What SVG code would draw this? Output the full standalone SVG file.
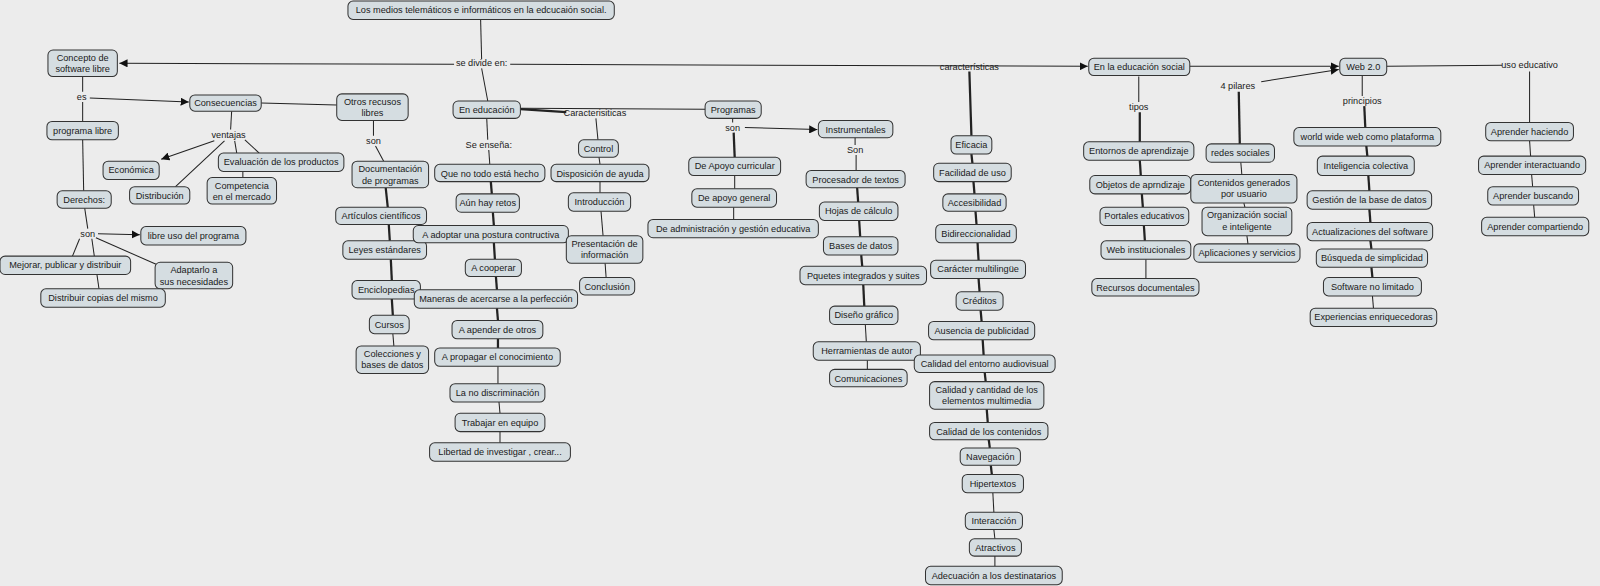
<svg xmlns="http://www.w3.org/2000/svg" width="1600" height="586" viewBox="0 0 1600 586">
<defs>
<marker id="ar" viewBox="0 0 10 10" refX="10" refY="5" markerWidth="8" markerHeight="8" markerUnits="userSpaceOnUse" orient="auto"><path d="M0,0L10,5L0,10z" fill="#111"/></marker>
<style>
.n rect{fill:#d5dde1;stroke:#333;stroke-width:1}
text{font-family:"Liberation Sans",Arial,sans-serif;font-size:9px;fill:#1a1a1a;text-anchor:middle}
.c line{stroke:#222;stroke-width:1}
.c .t{stroke-width:2.2}
.c .a{marker-end:url(#ar)}
</style>
</defs>
<rect width="1600" height="586" fill="#ececec"/>
<g transform="scale(1.0204)">
<g class="c">
<line x1="471" y1="19" x2="472" y2="58"/>
<line class="a" x1="445" y1="63" x2="117" y2="62"/>
<line class="a" x1="500" y1="63" x2="1066" y2="65"/>
<line x1="472" y1="67" x2="478" y2="99"/>
<line class="a" x1="1166" y1="65" x2="1312" y2="65"/>
<line x1="1359" y1="65" x2="1472" y2="64"/>
<line x1="1499" y1="70" x2="1499" y2="120"/>
<line x1="1499" y1="138" x2="1500" y2="153"/>
<line x1="1501" y1="171" x2="1502" y2="183"/>
<line x1="1503" y1="201" x2="1504" y2="213"/>
<line class="a" x1="1236" y1="80" x2="1312" y2="68"/>
<line class="t" x1="1214" y1="90" x2="1215" y2="141"/>
<line x1="1216" y1="159" x2="1217" y2="171"/>
<line x1="1219" y1="199" x2="1220" y2="203"/>
<line x1="1222" y1="231" x2="1223" y2="239"/>
<line x1="1335" y1="73" x2="1335" y2="94"/>
<line class="t" x1="1337" y1="104" x2="1338" y2="125"/>
<line class="t" x1="1339" y1="143" x2="1340" y2="153"/>
<line class="t" x1="1341" y1="172" x2="1342" y2="187"/>
<line class="t" x1="1342" y1="205" x2="1343" y2="218"/>
<line class="t" x1="1343" y1="236" x2="1344" y2="244"/>
<line class="t" x1="1344" y1="262" x2="1345" y2="272"/>
<line x1="1345" y1="290" x2="1346" y2="302"/>
<line x1="1116" y1="75" x2="1116" y2="100"/>
<line class="t" x1="1117" y1="110" x2="1117" y2="139"/>
<line class="t" x1="1117" y1="157" x2="1118" y2="172"/>
<line class="t" x1="1119" y1="190" x2="1120" y2="203"/>
<line class="t" x1="1121" y1="221" x2="1122" y2="236"/>
<line x1="1123" y1="254" x2="1123" y2="273"/>
<line class="t" x1="950" y1="70" x2="952" y2="133"/>
<line class="t" x1="952" y1="151" x2="953" y2="160"/>
<line class="t" x1="954" y1="178" x2="955" y2="190"/>
<line class="t" x1="956" y1="207" x2="957" y2="220"/>
<line class="t" x1="958" y1="238" x2="959" y2="255"/>
<line class="t" x1="959" y1="273" x2="960" y2="286"/>
<line class="t" x1="961" y1="304" x2="962" y2="315"/>
<line class="t" x1="963" y1="333" x2="964" y2="348"/>
<line class="t" x1="965" y1="365" x2="966" y2="374"/>
<line class="t" x1="967" y1="401" x2="968" y2="414"/>
<line class="t" x1="969" y1="431" x2="970" y2="439"/>
<line class="t" x1="971" y1="456" x2="972" y2="465"/>
<line x1="973" y1="483" x2="974" y2="502"/>
<line x1="974" y1="519" x2="975" y2="528"/>
<line x1="975" y1="545" x2="975" y2="555"/>
<line x1="81" y1="75" x2="81" y2="90"/>
<line class="a" x1="88" y1="96" x2="185" y2="100"/>
<line x1="81" y1="100" x2="81" y2="119"/>
<line x1="81" y1="137" x2="82" y2="187"/>
<line x1="83" y1="204" x2="86" y2="224"/>
<line class="a" x1="96" y1="229" x2="137" y2="230"/>
<line x1="78" y1="234" x2="71" y2="251"/>
<line x1="90" y1="234" x2="97" y2="283"/>
<line x1="94" y1="233" x2="153" y2="259"/>
<line x1="227" y1="109" x2="226" y2="127"/>
<line class="a" x1="210" y1="138" x2="158" y2="156"/>
<line x1="220" y1="138" x2="172" y2="183"/>
<line x1="230" y1="138" x2="232" y2="150"/>
<line x1="240" y1="137" x2="254" y2="150"/>
<line x1="238" y1="168" x2="238" y2="174"/>
<line x1="256" y1="101" x2="330" y2="103"/>
<line x1="366" y1="118" x2="366" y2="133"/>
<line x1="368" y1="143" x2="376" y2="158"/>
<line class="t" x1="378" y1="184" x2="380" y2="203"/>
<line class="t" x1="381" y1="220" x2="382" y2="236"/>
<line class="t" x1="383" y1="254" x2="384" y2="275"/>
<line class="t" x1="384" y1="293" x2="385" y2="309"/>
<line x1="385" y1="327" x2="386" y2="339"/>
<line x1="477" y1="116" x2="478" y2="137"/>
<line x1="479" y1="147" x2="480" y2="161"/>
<line class="t" x1="481" y1="178" x2="482" y2="190"/>
<line class="t" x1="483" y1="208" x2="484" y2="221"/>
<line class="t" x1="484" y1="238" x2="485" y2="254"/>
<line class="t" x1="486" y1="271" x2="487" y2="284"/>
<line class="t" x1="487" y1="302" x2="488" y2="314"/>
<line class="t" x1="488" y1="332" x2="488" y2="341"/>
<line x1="488" y1="359" x2="488" y2="376"/>
<line x1="489" y1="394" x2="490" y2="405"/>
<line x1="490" y1="423" x2="490" y2="434"/>
<line class="t" x1="510" y1="107" x2="555" y2="110"/>
<line x1="510" y1="106" x2="691" y2="107"/>
<line x1="584" y1="116" x2="586" y2="137"/>
<line x1="587" y1="154" x2="588" y2="161"/>
<line x1="588" y1="178" x2="588" y2="189"/>
<line x1="589" y1="207" x2="591" y2="231"/>
<line x1="593" y1="258" x2="594" y2="272"/>
<line x1="718" y1="116" x2="718" y2="120"/>
<line class="a" x1="730" y1="125" x2="801" y2="127"/>
<line class="t" x1="719" y1="130" x2="720" y2="154"/>
<line x1="720" y1="172" x2="720" y2="185"/>
<line x1="719" y1="203" x2="719" y2="215"/>
<line x1="838" y1="135" x2="838" y2="142"/>
<line x1="839" y1="152" x2="839" y2="167"/>
<line class="t" x1="840" y1="184" x2="841" y2="198"/>
<line class="t" x1="842" y1="216" x2="843" y2="232"/>
<line class="t" x1="844" y1="250" x2="845" y2="261"/>
<line class="t" x1="846" y1="279" x2="847" y2="300"/>
<line x1="848" y1="318" x2="849" y2="335"/>
<line x1="850" y1="353" x2="850" y2="362"/>
</g>
<g fill="#1a1a1a">
<text x="472" y="65">se divide en:</text>
<text x="80" y="98">es</text>
<text x="224" y="135">ventajas</text>
<text x="366" y="141">son</text>
<text x="479" y="145">Se enseña:</text>
<text x="583" y="114">Caracterisiticas</text>
<text x="718" y="128">son</text>
<text x="838" y="150">Son</text>
<text x="86" y="232">son</text>
<text x="950" y="69">características</text>
<text x="1116" y="108">tipos</text>
<text x="1213" y="87">4 pilares</text>
<text x="1335" y="102">principios</text>
<text x="1499" y="67">uso educativo</text>
</g>
<g class="n">
<g id="n1"><rect x="341" y="1" width="261" height="18" rx="5"/><text x="471.5" y="13">Los medios telemáticos e informáticos en la edcucaión social.</text></g>
<g id="n2"><rect x="47" y="49" width="68" height="26" rx="5"/><text x="81" y="60">Concepto de</text><text x="81" y="71">software libre</text></g>
<g id="n3"><rect x="186" y="93" width="70" height="16" rx="5"/><text x="221" y="104">Consecuencias</text></g>
<g id="n4"><rect x="330" y="92" width="70" height="26" rx="5"/><text x="365" y="103">Otros recusos</text><text x="365" y="114">libres</text></g>
<g id="n5"><rect x="444" y="99" width="66" height="17" rx="5"/><text x="477" y="111">En educación</text></g>
<g id="n6"><rect x="691" y="99" width="55" height="17" rx="5"/><text x="718.5" y="111">Programas</text></g>
<g id="n7"><rect x="1067" y="57" width="99" height="17" rx="5"/><text x="1116.5" y="69">En la educación social</text></g>
<g id="n8"><rect x="1313" y="57" width="46" height="17" rx="5"/><text x="1336" y="69">Web 2.0</text></g>
<g id="n9"><rect x="46" y="119" width="70" height="18" rx="5"/><text x="81" y="131">programa libre</text></g>
<g id="n10"><rect x="56" y="187" width="53" height="17" rx="5"/><text x="82.5" y="199">Derechos:</text></g>
<g id="n11"><rect x="101" y="158" width="55" height="18" rx="5"/><text x="128.5" y="170">Económica</text></g>
<g id="n12"><rect x="127" y="183" width="59" height="17" rx="5"/><text x="156.5" y="195">Distribución</text></g>
<g id="n13"><rect x="214" y="150" width="123" height="18" rx="5"/><text x="275.5" y="162">Evaluación de los productos</text></g>
<g id="n14"><rect x="203" y="174" width="68" height="26" rx="5"/><text x="237" y="185">Competencia</text><text x="237" y="196">en el mercado</text></g>
<g id="n15"><rect x="138" y="222" width="103" height="18" rx="5"/><text x="189.5" y="234">libre uso del programa</text></g>
<g id="n16"><rect x="0" y="251" width="128" height="18" rx="5"/><text x="64" y="263">Mejorar, publicar y distribuir</text></g>
<g id="n17"><rect x="152" y="257" width="76" height="26" rx="5"/><text x="190" y="268">Adaptarlo a</text><text x="190" y="279">sus necesidades</text></g>
<g id="n18"><rect x="40" y="283" width="122" height="18" rx="5"/><text x="101" y="295">Distribuir copias del mismo</text></g>
<g id="n19"><rect x="345" y="158" width="75" height="26" rx="5"/><text x="382.5" y="169">Documentación</text><text x="382.5" y="180">de programas</text></g>
<g id="n20"><rect x="329" y="203" width="89" height="17" rx="5"/><text x="373.5" y="215">Artículos científicos</text></g>
<g id="n21"><rect x="336" y="236" width="82" height="18" rx="5"/><text x="377" y="248">Leyes estándares</text></g>
<g id="n22"><rect x="345" y="275" width="67" height="18" rx="5"/><text x="378.5" y="287">Enciclopedias</text></g>
<g id="n23"><rect x="362" y="309" width="39" height="18" rx="5"/><text x="381.5" y="321">Cursos</text></g>
<g id="n24"><rect x="349" y="339" width="71" height="27" rx="5"/><text x="384.5" y="350">Colecciones  y</text><text x="384.5" y="361">bases de datos</text></g>
<g id="n25"><rect x="426" y="161" width="108" height="17" rx="5"/><text x="480" y="173">Que no todo está hecho</text></g>
<g id="n26"><rect x="447" y="190" width="62" height="18" rx="5"/><text x="478" y="202">Aún hay retos</text></g>
<g id="n27"><rect x="405" y="221" width="152" height="17" rx="5"/><text x="481" y="233">A adoptar una postura contructiva</text></g>
<g id="n28"><rect x="456" y="254" width="55" height="17" rx="5"/><text x="483.5" y="266">A cooperar</text></g>
<g id="n29"><rect x="406" y="284" width="160" height="18" rx="5"/><text x="486" y="296">Maneras de acercarse a la perfección</text></g>
<g id="n30"><rect x="443" y="314" width="89" height="18" rx="5"/><text x="487.5" y="326">A apender de otros</text></g>
<g id="n31"><rect x="426" y="341" width="123" height="18" rx="5"/><text x="487.5" y="353">A propagar el conocimiento</text></g>
<g id="n32"><rect x="441" y="376" width="93" height="18" rx="5"/><text x="487.5" y="388">La no discriminación</text></g>
<g id="n33"><rect x="446" y="405" width="88" height="18" rx="5"/><text x="490" y="417">Trabajar en equipo</text></g>
<g id="n34"><rect x="421" y="434" width="138" height="18" rx="5"/><text x="490" y="446">Libertad de investigar , crear...</text></g>
<g id="n35"><rect x="567" y="137" width="39" height="17" rx="5"/><text x="586.5" y="149">Control</text></g>
<g id="n36"><rect x="540" y="161" width="96" height="17" rx="5"/><text x="588" y="173">Disposición de ayuda</text></g>
<g id="n37"><rect x="557" y="189" width="61" height="18" rx="5"/><text x="587.5" y="201">Introducción</text></g>
<g id="n38"><rect x="555" y="231" width="75" height="27" rx="5"/><text x="592.5" y="242">Presentación de</text><text x="592.5" y="253">información</text></g>
<g id="n39"><rect x="568" y="272" width="54" height="17" rx="5"/><text x="595" y="284">Conclusión</text></g>
<g id="n40"><rect x="675" y="154" width="90" height="18" rx="5"/><text x="720" y="166">De Apoyo curricular</text></g>
<g id="n41"><rect x="678" y="185" width="83" height="18" rx="5"/><text x="719.5" y="197">De apoyo general</text></g>
<g id="n42"><rect x="635" y="215" width="167" height="18" rx="5"/><text x="718.5" y="227">De administración y gestión educativa</text></g>
<g id="n43"><rect x="802" y="118" width="73" height="17" rx="5"/><text x="838.5" y="130">Instrumentales</text></g>
<g id="n44"><rect x="790" y="167" width="97" height="17" rx="5"/><text x="838.5" y="179">Procesador de textos</text></g>
<g id="n45"><rect x="803" y="198" width="77" height="18" rx="5"/><text x="841.5" y="210">Hojas de cálculo</text></g>
<g id="n46"><rect x="807" y="232" width="73" height="18" rx="5"/><text x="843.5" y="244">Bases de datos</text></g>
<g id="n47"><rect x="784" y="261" width="124" height="18" rx="5"/><text x="846" y="273">Pquetes integrados y suites</text></g>
<g id="n48"><rect x="813" y="300" width="67" height="18" rx="5"/><text x="846.5" y="312">Diseño gráfico</text></g>
<g id="n49"><rect x="797" y="335" width="105" height="18" rx="5"/><text x="849.5" y="347">Herramientas de autor</text></g>
<g id="n50"><rect x="813" y="362" width="76" height="17" rx="5"/><text x="851" y="374">Comunicaciones</text></g>
<g id="n51"><rect x="932" y="133" width="40" height="18" rx="5"/><text x="952" y="145">Eficacia</text></g>
<g id="n52"><rect x="915" y="160" width="76" height="18" rx="5"/><text x="953" y="172">Facilidad de uso</text></g>
<g id="n53"><rect x="924" y="190" width="62" height="17" rx="5"/><text x="955" y="202">Accesibilidad</text></g>
<g id="n54"><rect x="917" y="220" width="79" height="18" rx="5"/><text x="956.5" y="232">Bidireccionalidad</text></g>
<g id="n55"><rect x="912" y="255" width="93" height="18" rx="5"/><text x="958.5" y="267">Carácter multilingüe</text></g>
<g id="n56"><rect x="937" y="286" width="46" height="18" rx="5"/><text x="960" y="298">Créditos</text></g>
<g id="n57"><rect x="910" y="315" width="104" height="18" rx="5"/><text x="962" y="327">Ausencia de publicidad</text></g>
<g id="n58"><rect x="896" y="348" width="138" height="17" rx="5"/><text x="965" y="360">Calidad del entorno audiovisual</text></g>
<g id="n59"><rect x="911" y="374" width="112" height="27" rx="5"/><text x="967" y="385">Calidad y cantidad de los</text><text x="967" y="396">elementos multimedia</text></g>
<g id="n60"><rect x="911" y="414" width="116" height="17" rx="5"/><text x="969" y="426">Calidad de los contenidos</text></g>
<g id="n61"><rect x="941" y="439" width="59" height="17" rx="5"/><text x="970.5" y="451">Navegación</text></g>
<g id="n62"><rect x="943" y="465" width="60" height="18" rx="5"/><text x="973" y="477">Hipertextos</text></g>
<g id="n63"><rect x="946" y="502" width="56" height="17" rx="5"/><text x="974" y="514">Interacción</text></g>
<g id="n64"><rect x="950" y="528" width="51" height="17" rx="5"/><text x="975.5" y="540">Atractivos</text></g>
<g id="n65"><rect x="907" y="555" width="134" height="18" rx="5"/><text x="974" y="567">Adecuación a los destinatarios</text></g>
<g id="n66"><rect x="1062" y="139" width="108" height="18" rx="5"/><text x="1116" y="151">Entornos de aprendizaje</text></g>
<g id="n67"><rect x="1068" y="172" width="99" height="18" rx="5"/><text x="1117.5" y="184">Objetos de aprndizaje</text></g>
<g id="n68"><rect x="1078" y="203" width="87" height="18" rx="5"/><text x="1121.5" y="215">Portales educativos</text></g>
<g id="n69"><rect x="1079" y="236" width="88" height="18" rx="5"/><text x="1123" y="248">Web institucionales</text></g>
<g id="n70"><rect x="1070" y="273" width="105" height="17" rx="5"/><text x="1122.5" y="285">Recursos documentales</text></g>
<g id="n71"><rect x="1182" y="141" width="67" height="18" rx="5"/><text x="1215.5" y="153">redes sociales</text></g>
<g id="n72"><rect x="1167" y="171" width="104" height="28" rx="5"/><text x="1219" y="182">Contenidos generados</text><text x="1219" y="193">por usuario</text></g>
<g id="n73"><rect x="1178" y="203" width="88" height="28" rx="5"/><text x="1222" y="214">Organización social</text><text x="1222" y="225">e inteligente</text></g>
<g id="n74"><rect x="1170" y="239" width="104" height="18" rx="5"/><text x="1222" y="251">Aplicaciones y servicios</text></g>
<g id="n75"><rect x="1268" y="125" width="144" height="18" rx="5"/><text x="1340" y="137">world wide web como plataforma</text></g>
<g id="n76"><rect x="1291" y="153" width="95" height="19" rx="5"/><text x="1338.5" y="166">Inteligencia colectiva</text></g>
<g id="n77"><rect x="1281" y="187" width="122" height="18" rx="5"/><text x="1342" y="199">Gestión de la base de datos</text></g>
<g id="n78"><rect x="1281" y="218" width="123" height="18" rx="5"/><text x="1342.5" y="230">Actualizaciones del software</text></g>
<g id="n79"><rect x="1290" y="244" width="109" height="18" rx="5"/><text x="1344.5" y="256">Búsqueda de simplicidad</text></g>
<g id="n80"><rect x="1297" y="272" width="96" height="18" rx="5"/><text x="1345" y="284">Software no limitado</text></g>
<g id="n81"><rect x="1284" y="302" width="124" height="18" rx="5"/><text x="1346" y="314">Experiencias enriquecedoras</text></g>
<g id="n82"><rect x="1456" y="120" width="86" height="18" rx="5"/><text x="1499" y="132">Aprender haciendo</text></g>
<g id="n83"><rect x="1449" y="153" width="105" height="18" rx="5"/><text x="1501.5" y="165">Aprender interactuando</text></g>
<g id="n84"><rect x="1458" y="183" width="89" height="18" rx="5"/><text x="1502.5" y="195">Aprender buscando</text></g>
<g id="n85"><rect x="1452" y="213" width="105" height="18" rx="5"/><text x="1504.5" y="225">Aprender compartiendo</text></g>
</g>
</g>
</svg>
